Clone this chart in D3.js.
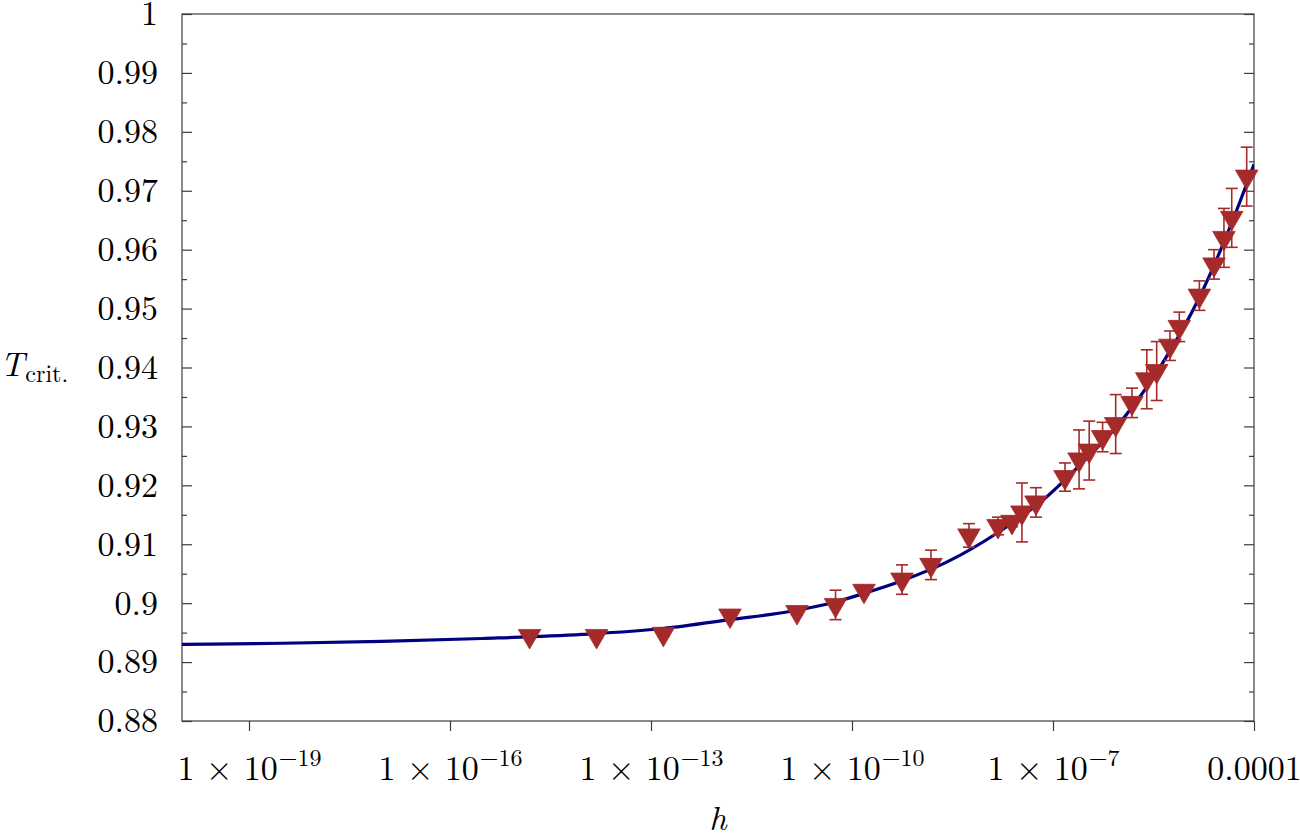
<!DOCTYPE html>
<html>
<head>
<meta charset="utf-8">
<script src="https://cdn.jsdelivr.net/npm/d3@7"></script>
<style>
  html, body { margin: 0; padding: 0; background: #fff; }
  svg { display: block; }
</style>
</head>
<body>
<svg id="chart" width="1300" height="837"></svg>
<script>
// ---- data ----
const hPoints = [1.54e-15, 1.54e-14, 1.53e-13, 1.51e-12, 1.51e-11, 5.68e-11, 1.51e-10, 5.57e-10,
  1.51e-9, 5.57e-9, 1.51e-8, 2.44e-8, 3.44e-8, 5.57e-8, 1.51e-7, 2.45e-7, 3.47e-7, 5.5e-7, 8.63e-7,
  1.51e-6, 2.51e-6, 3.53e-6, 5.57e-6, 7.67e-6, 1.53e-5, 2.53e-5, 3.56e-5, 4.65e-5, 7.78e-5];
const tPoints = [0.89443, 0.89443, 0.8948, 0.8979, 0.8985, 0.8997, 0.9021, 0.9040,
  0.9065, 0.9115, 0.9131, 0.9138, 0.9154, 0.9171, 0.9214, 0.9244, 0.9259, 0.9282, 0.9304,
  0.9340, 0.9380, 0.9394, 0.9437, 0.9469, 0.9522, 0.9575, 0.9620, 0.9654, 0.9724];
const tErrors = [0.0004, 0.0004, 0.0004, 0.0004, 0.0005, 0.0025, 0.0005, 0.0025,
  0.0025, 0.002, 0.0015, 0.0008, 0.005, 0.0025, 0.0024, 0.005, 0.005, 0.0025, 0.005,
  0.0025, 0.005, 0.005, 0.0025, 0.0025, 0.0025, 0.0025, 0.005, 0.005, 0.005];

const hCurve = [1e-20, 3.09e-19, 9.66e-18, 3.02e-16, 9.33e-15, 1.51e-13, 1.51e-12, 1.51e-11, 5.62e-11,
  1.46e-10, 5.57e-10, 2.63e-9, 1.51e-8, 7.08e-8, 2.82e-7, 7.94e-7, 3.98e-6, 1.56e-5, 4.9e-5, 1e-4];
const tCurve = [0.8930, 0.8932, 0.8935, 0.8940, 0.8947, 0.8957, 0.8972, 0.8988, 0.9002,
  0.9016, 0.9038, 0.9070, 0.9120, 0.9175, 0.9240, 0.9293, 0.9401, 0.9521, 0.9652, 0.9745];

const xTickValues = [1e-19, 1e-16, 1e-13, 1e-10, 1e-7, 1e-4];
const xTickBase = ["1 × 10", "1 × 10", "1 × 10", "1 × 10", "1 × 10", "0.0001"];
const xTickExp = ["−19", "−16", "−13", "−10", "−7", ""];
const yTickValues = [0.88, 0.89, 0.9, 0.91, 0.92, 0.93, 0.94, 0.95, 0.96, 0.97, 0.98, 0.99, 1];
const yTickLabels = ["0.88", "0.89", "0.9", "0.91", "0.92", "0.93", "0.94", "0.95", "0.96", "0.97", "0.98", "0.99", "1"];
const yMinorValues = [0.885, 0.895, 0.905, 0.915, 0.925, 0.935, 0.945, 0.955, 0.965, 0.975, 0.985, 0.995];

// ---- layout ----
const W = 1300, H = 837;
const margin = {left: 182, right: 46, top: 14, bottom: 116};
const svg = d3.select("#chart");
const FONT = "'Latin Modern Roman'";

const x = d3.scaleLog().domain([1e-20, 1e-4]).range([margin.left, W - margin.right]);
const y = d3.scaleLinear().domain([0.88, 1]).range([H - margin.bottom, margin.top]);

const axisColor = "#3c3c3c";
const fontSize = 34;

// frame
svg.append("rect")
  .attr("x", x.range()[0]).attr("y", y.range()[1])
  .attr("width", x.range()[1] - x.range()[0])
  .attr("height", y.range()[0] - y.range()[1])
  .attr("fill", "none").attr("stroke", axisColor).attr("stroke-width", 1.2);

function styleTicks(g) {
  g.attr("font-family", null).style("font-family", FONT);
  g.select(".domain").remove();
  g.selectAll(".tick line").attr("stroke", axisColor).attr("stroke-width", 1.2);
}

// y axis left major
const yLeft = svg.append("g").attr("transform", `translate(${margin.left},0)`)
  .call(d3.axisLeft(y).tickValues(yTickValues).tickSize(-10).tickPadding(24)
    .tickFormat((d, i) => yTickLabels[i]));
styleTicks(yLeft);
yLeft.selectAll(".tick text").attr("font-size", fontSize).style("font-family", FONT).attr("fill", "#000");

// y axis left minor
const yLeftMinor = svg.append("g").attr("transform", `translate(${margin.left},0)`)
  .call(d3.axisLeft(y).tickValues(yMinorValues).tickSize(-5).tickFormat(""));
styleTicks(yLeftMinor);

// y axis right major + minor
const yRight = svg.append("g").attr("transform", `translate(${W - margin.right},0)`)
  .call(d3.axisRight(y).tickValues(yTickValues).tickSize(-10).tickFormat(""));
styleTicks(yRight);
const yRightMinor = svg.append("g").attr("transform", `translate(${W - margin.right},0)`)
  .call(d3.axisRight(y).tickValues(yMinorValues).tickSize(-5).tickFormat(""));
styleTicks(yRightMinor);

// x axis bottom (ticks outward)
const xAxisG = svg.append("g").attr("transform", `translate(0,${H - margin.bottom})`)
  .call(d3.axisBottom(x).tickValues(xTickValues).tickSize(10).tickPadding(28).tickFormat(""));
styleTicks(xAxisG);
xAxisG.selectAll(".tick text").each(function(d, i) {
  const t = d3.select(this);
  t.text(null).attr("font-size", fontSize).attr("text-anchor", "middle")
    .style("font-family", FONT).attr("fill", "#000")
    .attr("y", 59).attr("dy", null);
  if (xTickExp[i]) {
    t.append("tspan").text(xTickBase[i]);
    t.append("tspan").attr("dx", 1).attr("dy", -14).attr("font-size", 24).text(xTickExp[i]);
  } else {
    t.append("tspan").text(xTickBase[i]);
  }
});

// axis titles
const yTitle = svg.append("text").attr("x", 0).attr("y", 376).attr("font-size", fontSize).style("font-family", FONT);
yTitle.append("tspan").attr("font-style", "italic").text("T");
yTitle.append("tspan").attr("font-size", 24).attr("dy", 6).attr("dx", 1).text("crit.");

svg.append("text").attr("x", 718).attr("y", 830).attr("text-anchor", "middle").style("font-family", FONT)
  .attr("font-size", fontSize).attr("font-style", "italic").text("h");

// clip
svg.append("clipPath").attr("id", "clip").append("rect")
  .attr("x", x.range()[0]).attr("y", y.range()[1])
  .attr("width", x.range()[1] - x.range()[0])
  .attr("height", y.range()[0] - y.range()[1]);

// fit curve
const curveData = hCurve.map((h, i) => ({h, t: tCurve[i]}));
svg.append("path")
  .datum(curveData)
  .attr("clip-path", "url(#clip)")
  .attr("fill", "none").attr("stroke", "#000080").attr("stroke-width", 3.2)
  .attr("d", d3.line().x(d => x(d.h)).y(d => y(d.t)).curve(d3.curveMonotoneX));

// data points
const pts = hPoints.map((h, i) => ({h, t: tPoints[i], e: tErrors[i]}));
const brown = "#a52a2a";
const eb = svg.append("g").attr("stroke", brown).attr("stroke-width", 1.6).attr("fill", "none");
pts.forEach(p => {
  const cx = x(p.h), y1 = y(p.t + p.e), y2 = y(p.t - p.e);
  eb.append("line").attr("x1", cx).attr("x2", cx).attr("y1", y1).attr("y2", y2);
  eb.append("line").attr("x1", cx - 6).attr("x2", cx + 6).attr("y1", y1).attr("y2", y1);
  eb.append("line").attr("x1", cx - 6).attr("x2", cx + 6).attr("y1", y2).attr("y2", y2);
});

const sym = d3.symbol().type(d3.symbolTriangle).size(220);
svg.append("g").selectAll("path").data(pts).join("path")
  .attr("d", sym)
  .attr("transform", d => `translate(${x(d.h)},${y(d.t)}) rotate(180)`)
  .attr("fill", brown).attr("stroke", brown).attr("stroke-width", 0.8);
</script>
</body>
</html>
